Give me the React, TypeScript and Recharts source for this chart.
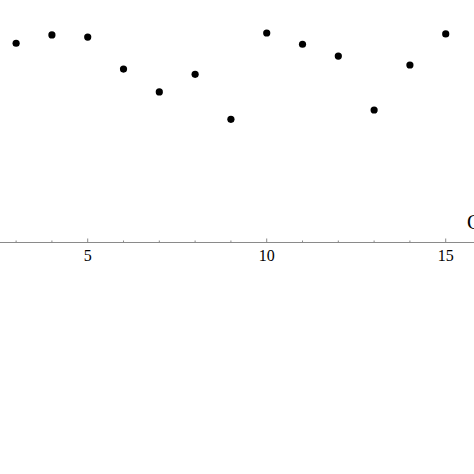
import React from "react";
import { ScatterChart, Scatter, XAxis, YAxis } from "recharts";

const xValues = [3, 4, 5, 6, 7, 8, 9, 10, 11, 12, 13, 14, 15];
const yValues = [1.027, 1.07, 1.059, 0.894, 0.776, 0.867, 0.635, 1.08, 1.022, 0.961, 0.683, 0.915, 1.075];
const tickValues = [3, 4, 5, 6, 7, 8, 9, 10, 11, 12, 13, 14, 15];
const labeledTicks = [5, 10, 15];
const axisLabel = "C";

const data = xValues.map((x, i) => ({ x, y: yValues[i] }));

const FONT = "'Liberation Serif', 'Times New Roman', serif";
const AXIS_COLOR = "#8a8a8a";

const Tick = (props: any) => {
  const { x, y, payload } = props;
  const major = labeledTicks.includes(payload.value);
  return (
    <g>
      <line x1={x} x2={x} y1={y} y2={y - (major ? 4 : 2)} stroke={AXIS_COLOR} strokeWidth={1} />
      {major && (
        <text x={x} y={y + 18.5} textAnchor="middle" fontSize={16} fontFamily={FONT} fill="#000">
          {payload.value}
        </text>
      )}
    </g>
  );
};

const AxisLabel = (props: any) => {
  const vb = props.viewBox || {};
  return (
    <text x={vb.x + vb.width - 7} y={vb.y - 13.5} textAnchor="start" fontSize={20} fontFamily={FONT} fill="#000">
      {axisLabel}
    </text>
  );
};

const Dot = (props: any) => <circle cx={props.cx} cy={props.cy} r={3.6} fill="#000" />;

export default function App() {
  return (
    <div style={{ position: "absolute", left: 0, top: 0, width: 474, height: 474, overflow: "hidden", background: "#fff" }}>
      <ScatterChart width={474} height={474} margin={{ top: 0, right: 0, left: 0, bottom: 201.5 }}>
        <XAxis
          type="number"
          dataKey="x"
          domain={[2.55, 15.79]}
          allowDataOverflow
          ticks={tickValues}
          interval={0}
          tickSize={0}
          tickMargin={0}
          tickLine={false}
          tick={<Tick />}
          axisLine={{ stroke: AXIS_COLOR, strokeWidth: 1 }}
          height={30}
          label={<AxisLabel />}
        />
        <YAxis type="number" dataKey="y" domain={[0, 1.25]} hide width={0} allowDataOverflow />
        <Scatter data={data} isAnimationActive={false} shape={<Dot />} />
      </ScatterChart>
    </div>
  );
}
